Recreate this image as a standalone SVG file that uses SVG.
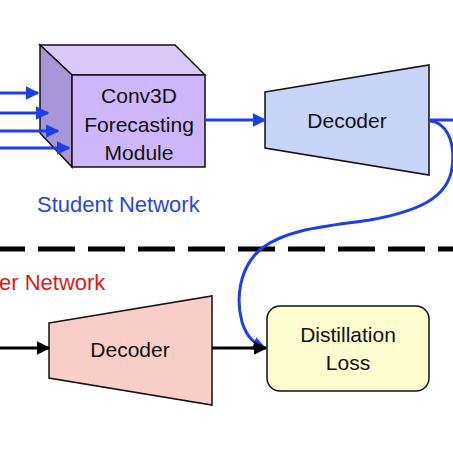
<svg xmlns="http://www.w3.org/2000/svg" width="453" height="453" viewBox="0 0 453 453">
<defs>
<style>
.t{font-family:"Liberation Sans","Open Sans",sans-serif;font-size:21px;fill:#111;text-anchor:middle}
.blue{stroke:#1f3fe6;stroke-width:3;fill:none}
.blk{stroke:#000;stroke-width:3;fill:none}
.edge{stroke:#111;stroke-width:1.5}
</style>
<marker id="ab" viewBox="0 0 10 10" refX="9" refY="5" markerWidth="4.5" markerHeight="4.5" orient="auto" markerUnits="strokeWidth"><path d="M0,0 L10,5 L0,10 z" fill="#1f3fe6"/></marker>
<marker id="ak" viewBox="0 0 10 10" refX="9" refY="5" markerWidth="4.5" markerHeight="4.5" orient="auto" markerUnits="strokeWidth"><path d="M0,0 L10,5 L0,10 z" fill="#000"/></marker>
</defs>
<rect width="453" height="453" fill="#fff"/>
<line x1="0" y1="249" x2="453" y2="249" stroke="#000" stroke-width="5" stroke-dasharray="37 13" stroke-dashoffset="12"/>
<g id="cube">
<polygon points="40,45 175,45 205,75 72,75" fill="#d9c8f8" class="edge"/>
<polygon points="40,45 72,75 72,167 40,133" fill="#a996d9" class="edge"/>
<rect x="72" y="75" width="133" height="92" fill="#cdb6f9" class="edge"/>
<text class="t" x="139" y="103">Conv3D</text>
<text class="t" x="139" y="132">Forecasting</text>
<text class="t" x="139" y="160">Module</text>
</g>
<g id="student-decoder">
<polygon points="265,92 429,65 429,175 265,148" fill="#c9d4f9" class="edge"/>
<text class="t" x="347" y="128">Decoder</text>
</g>
<g id="teacher-decoder">
<polygon points="49,323 212,296 212,405 49,378" fill="#f9cec8" class="edge"/>
<text class="t" x="130" y="357">Decoder</text>
</g>
<g id="loss">
<rect x="267" y="306" width="162" height="85" rx="13" fill="#fefdd0" class="edge"/>
<text class="t" x="348" y="342">Distillation</text>
<text class="t" x="348" y="370">Loss</text>
</g>
<text x="37" y="212" font-family="Liberation Sans, sans-serif" font-size="22" fill="#2b47dc">Student Network</text>
<text x="-1" y="290" font-family="Liberation Sans, sans-serif" font-size="22" fill="#e01818">er Network</text>
<g id="connectors">
<line x1="0" y1="93" x2="38" y2="93" class="blue" marker-end="url(#ab)"/>
<line x1="0" y1="113" x2="48" y2="113" class="blue" marker-end="url(#ab)"/>
<line x1="0" y1="131" x2="58" y2="131" class="blue" marker-end="url(#ab)"/>
<line x1="0" y1="148" x2="69" y2="148" class="blue" marker-end="url(#ab)"/>
<line x1="205" y1="120" x2="265" y2="120" class="blue" marker-end="url(#ab)"/>
<line x1="429" y1="120" x2="453" y2="120" class="blue"/>
<path d="M430,121 C445,122 456,140 452,168 C448,197 420,211 370,220 C330,226 290,228 262,248 C238,268 236,300 242,322 C247,338 255,344 265,348" class="blue" marker-end="url(#ab)"/>
<line x1="0" y1="348" x2="49" y2="348" class="blk" marker-end="url(#ak)"/>
<line x1="212" y1="348" x2="266" y2="348" class="blk" marker-end="url(#ak)"/>
</g>
</svg>
